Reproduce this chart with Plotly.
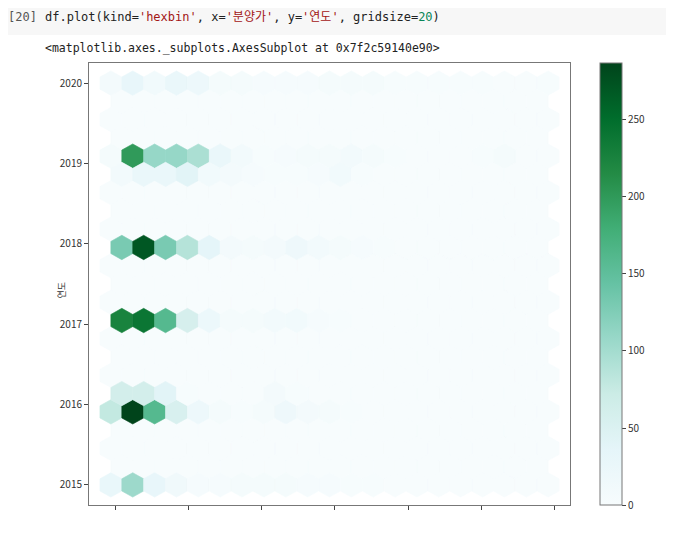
import numpy as np
import plotly.graph_objects as go
from plotly.colors import sequential, sample_colorscale

# extent of the data the hexbin was built on (분양가 min/max, 연도 min/max)
price_min, price_max = 1868, 13835
year_min, year_max = 2015, 2020
gridsize = 20

years = [2015, 2016, 2017, 2018, 2019, 2020]
x_ticks = [2000, 4000, 6000, 8000, 10000, 12000, 14000]
cbar_ticks = [0, 50, 100, 150, 200, 250]
count_max = 287

# counts per hexagon, left to right
# "a" = main lattice (21 columns), "b" = half-shifted lattice (20 columns)
cnt_2015_a = [28, 105, 30, 14, 3, 3, 5, 5, 5, 3, 4, 2, 1, 0, 0, 0, 0, 0, 0, 0, 0]
cnt_2016_a = [78, 287, 160, 55, 20, 6, 2, 6, 18, 8, 6, 2, 0, 0, 0, 0, 0, 0, 0, 0, 0]
cnt_2016_b = [62, 62, 40, 2, 0, 0, 0, 8, 1, 0, 0, 0, 0, 0, 0, 0, 0, 0, 0, 0]
cnt_2017_b = [225, 240, 160, 58, 22, 6, 6, 10, 12, 4, 2, 0, 0, 0, 0, 0, 0, 0, 0, 0]
cnt_2018_b = [130, 270, 130, 88, 35, 8, 6, 8, 18, 10, 5, 3, 1, 0, 0, 0, 0, 0, 0, 0]
cnt_2019_b = [10, 25, 25, 40, 12, 8, 3, 2, 2, 3, 12, 2, 0, 0, 0, 0, 0, 0, 0, 0]
cnt_2019_a = [6, 200, 110, 110, 95, 25, 10, 2, 4, 5, 6, 10, 6, 1, 0, 0, 0, 1, 5, 0, 0]
cnt_2020_a = [8, 30, 12, 25, 20, 6, 5, 3, 4, 4, 6, 6, 5, 2, 2, 1, 1, 1, 0, 0, 1]

rows = [
    (2015, "a", cnt_2015_a),
    (2016, "a", cnt_2016_a),
    (2016, "b", cnt_2016_b),
    (2017, "b", cnt_2017_b),
    (2018, "b", cnt_2018_b),
    (2019, "b", cnt_2019_b),
    (2019, "a", cnt_2019_a),
    (2020, "a", cnt_2020_a),
]

# same lattice as matplotlib's hexbin
nx = gridsize
ny = int(nx / np.sqrt(3))
sx = (price_max - price_min) / nx
sy = (year_max - year_min) / ny

counts = {}
for ix in range(nx + 1):
    for iy in range(ny + 1):
        counts[("a", ix, iy)] = 0
for ix in range(nx):
    for iy in range(ny):
        counts[("b", ix, iy)] = 0

for yr, lat, vals in rows:
    t = (yr - year_min) / sy
    iy = int(round(t)) if lat == "a" else int(np.floor(t))
    for ix, v in enumerate(vals):
        counts[(lat, ix, iy)] = v

hex_dx = sx * np.array([0.5, 0.5, 0.0, -0.5, -0.5, 0.0, 0.5])
hex_dy = sy / 3 * np.array([-0.5, 0.5, 1.0, 0.5, -0.5, -1.0, -0.5])


def center(lat, ix, iy):
    off = 0.0 if lat == "a" else 0.5
    return price_min + (ix + off) * sx, year_min + (iy + off) * sy


bugn = sequential.BuGn
fig = go.Figure()

# empty hexagons in one trace
zx, zy = [], []
for (lat, ix, iy), c in counts.items():
    if c == 0:
        cx, cy = center(lat, ix, iy)
        zx += list(cx + hex_dx) + [None]
        zy += list(cy + hex_dy) + [None]
col0 = sample_colorscale(bugn, [0.0])[0]
fig.add_trace(go.Scatter(x=zx, y=zy, mode="lines", fill="toself", fillcolor=col0,
                         line=dict(color=col0, width=0.6), hoverinfo="skip", showlegend=False))

for (lat, ix, iy), c in counts.items():
    if c == 0:
        continue
    cx, cy = center(lat, ix, iy)
    col = sample_colorscale(bugn, [min(c / count_max, 1.0)])[0]
    fig.add_trace(go.Scatter(x=cx + hex_dx, y=cy + hex_dy, mode="lines", fill="toself",
                             fillcolor=col, line=dict(color=col, width=0.6),
                             hoverinfo="text", text=str(c), showlegend=False))

# colorbar (marker itself hidden)
fig.add_trace(go.Scatter(
    x=[price_min, price_min], y=[year_min, year_min], mode="markers",
    marker=dict(size=1, opacity=0, color=[0, count_max], colorscale="BuGn",
                cmin=0, cmax=count_max, showscale=True,
                colorbar=dict(x=(600 - 89) / 481, xanchor="left", xpad=0, ypad=0,
                              y=0.5, yanchor="middle", len=442, lenmode="pixels",
                              thickness=22, thicknessmode="pixels",
                              outlinecolor="#777", outlinewidth=1,
                              tickvals=cbar_ticks, ticks="outside", ticklen=4,
                              tickcolor="#444",
                              tickfont=dict(family="Noto Sans CJK KR", size=10, color="#333"))),
    hoverinfo="skip", showlegend=False))

x_span = price_max - price_min
y_span = year_max - year_min

fig.update_xaxes(range=[price_min - 0.05 * x_span, price_max + 0.05 * x_span],
                 tickvals=x_ticks, showticklabels=False, ticks="outside", ticklen=4,
                 tickcolor="#444", showgrid=False, zeroline=False,
                 showline=True, linecolor="#777", linewidth=1, mirror=True)
fig.update_yaxes(range=[year_min - 0.05 * y_span, year_max + 0.05 * y_span],
                 tickvals=years, ticks="outside", ticklen=4, tickcolor="#444",
                 tickfont=dict(family="Noto Sans CJK KR", size=10, color="#333"),
                 showgrid=False, zeroline=False,
                 showline=True, linecolor="#777", linewidth=1, mirror=True)


def px(x):
    return (x - 89) / 481


def py(y):
    return (505 - y) / 442


# notebook cell header and output line
fig.add_shape(type="rect", xref="paper", yref="paper", x0=px(0), x1=px(674),
              y0=py(35), y1=py(0), fillcolor="#f7f7f7", line=dict(width=0), layer="below")

mono = "DejaVu Sans Mono, Noto Sans CJK KR"
red = "#a31515"
code = ("df.plot(kind=<span style='color:%s'>'hexbin'</span>, x=<span style='color:%s'>'분양가'</span>, "
        "y=<span style='color:%s'>'연도'</span>, gridsize=<span style='color:#098658'>20</span>)") % (red, red, red)
fig.add_annotation(x=px(6), y=py(17), xref="paper", yref="paper", text="[20]",
                   showarrow=False, xanchor="left", yanchor="middle",
                   font=dict(family=mono, size=12, color="#555"))
fig.add_annotation(x=px(43), y=py(17), xref="paper", yref="paper", text=code,
                   showarrow=False, xanchor="left", yanchor="middle",
                   font=dict(family=mono, size=12, color="#222"))
fig.add_annotation(x=px(43), y=py(48), xref="paper", yref="paper",
                   text="&lt;matplotlib.axes._subplots.AxesSubplot at 0x7f2c59140e90&gt;",
                   showarrow=False, xanchor="left", yanchor="middle",
                   font=dict(family=mono, size=11.5, color="#222"))

fig.add_annotation(x=px(52), y=py(290), xref="paper", yref="paper", text="연도",
                   showarrow=False, textangle=-90,
                   font=dict(family="Noto Sans CJK KR", size=9, color="#333"))

# page body has an 8px margin, so the figure is 8px smaller and shifted
fig.update_layout(width=666, height=530, margin=dict(l=81, r=104, t=55, b=33),
                  paper_bgcolor="white", plot_bgcolor="white", showlegend=False)

fig.write_html("out.html")
